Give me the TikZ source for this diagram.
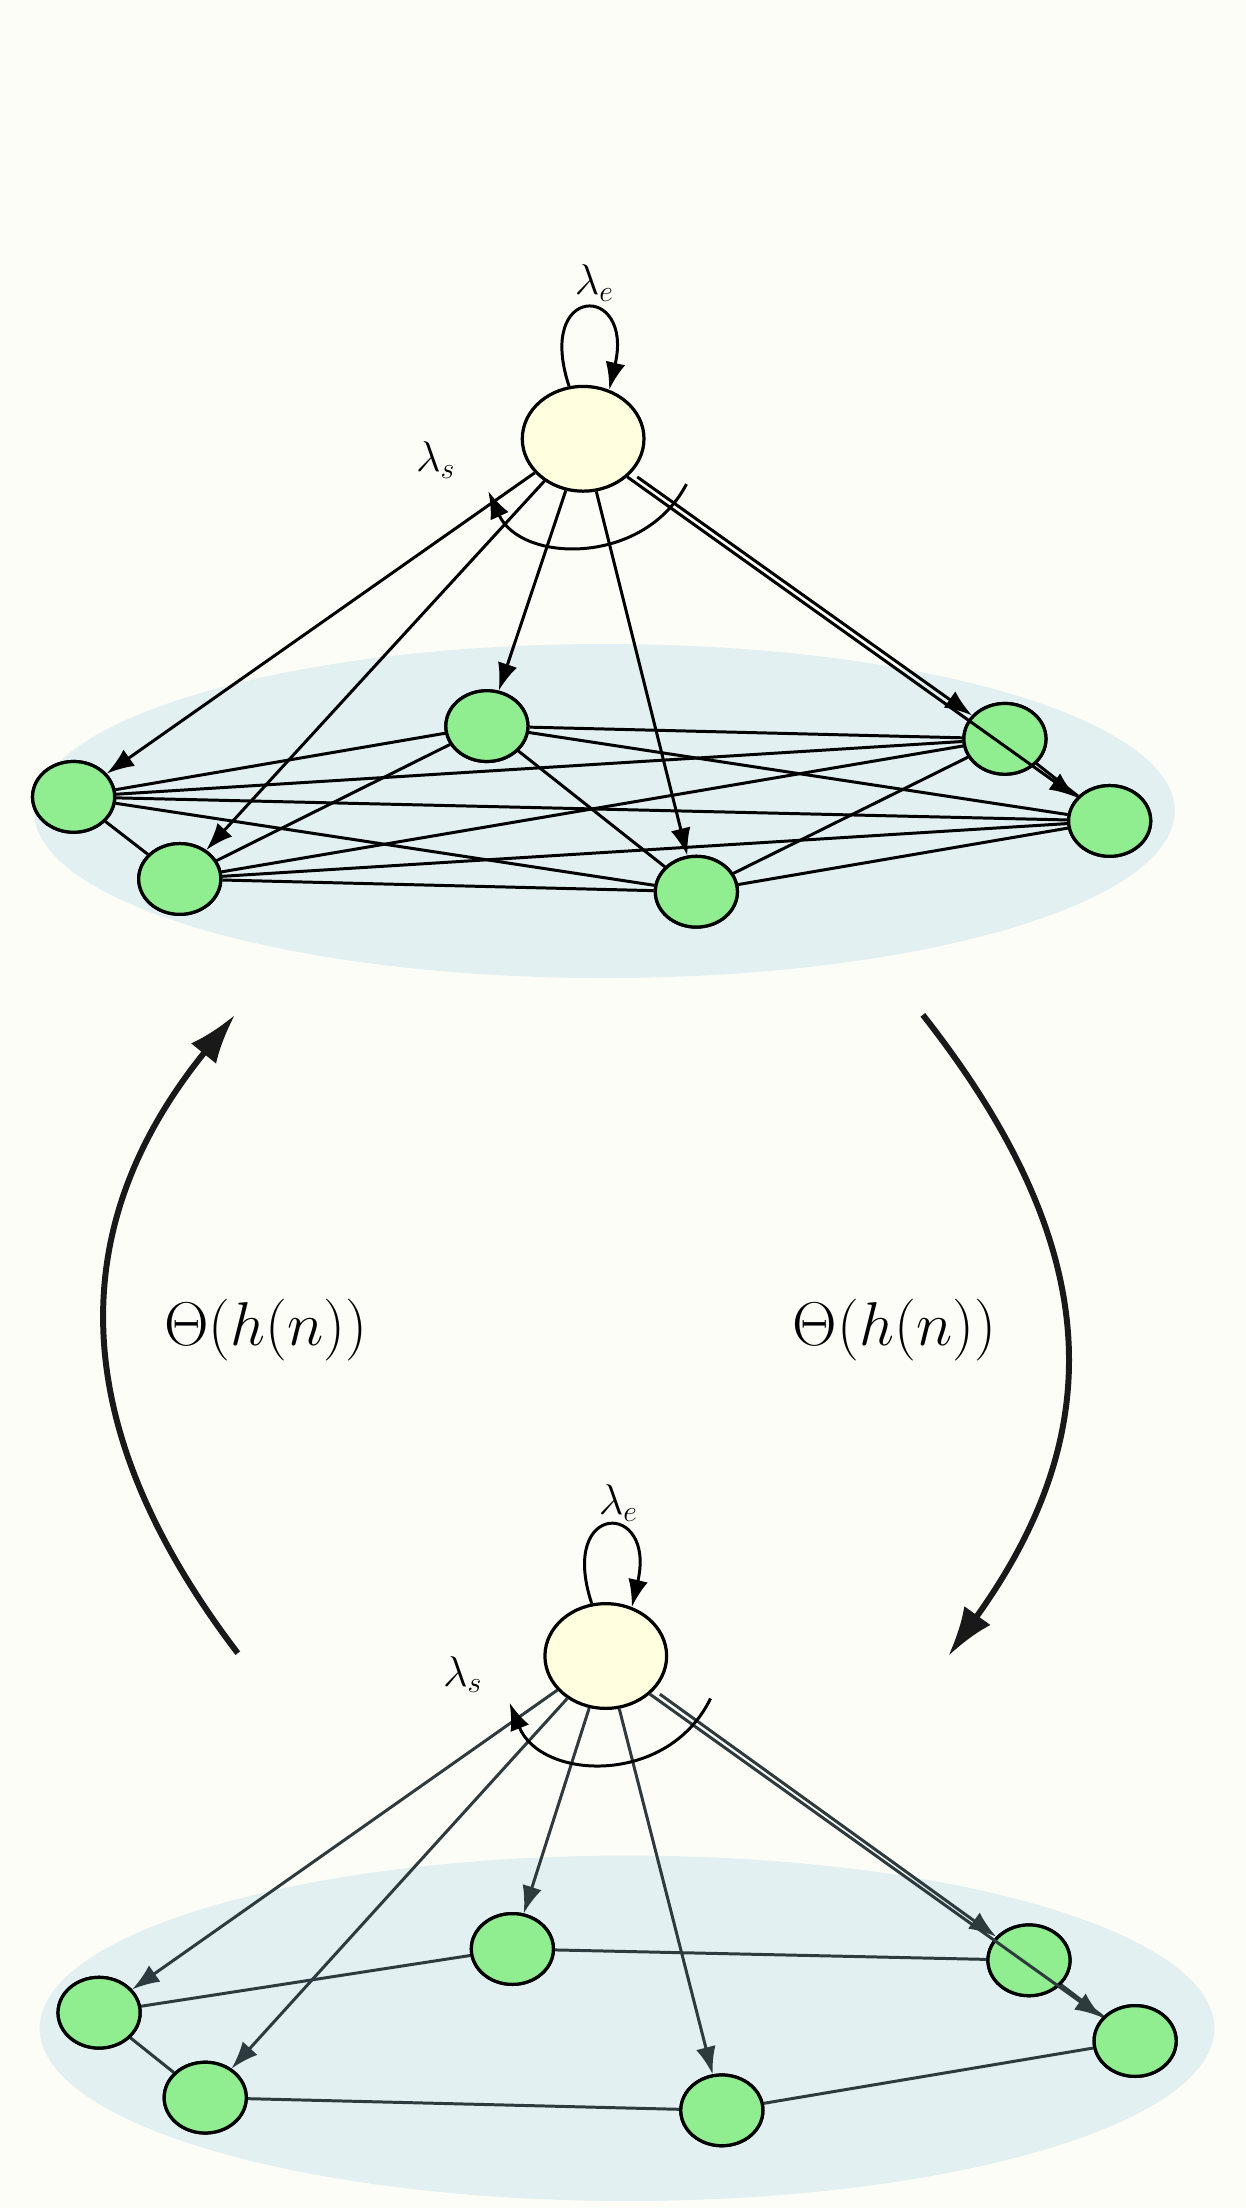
\documentclass[tikz,border=0pt]{standalone}
\usetikzlibrary{arrows.meta,shapes.geometric}
\definecolor{bg}{HTML}{FDFDF7}
\definecolor{plane}{HTML}{E3F0F2}
\definecolor{gnode}{HTML}{90EE90}
\definecolor{ynode}{HTML}{FFFFE0}
\definecolor{dg}{HTML}{2E3B3E}
\begin{document}
\begin{tikzpicture}[x=0.02cm,y=-0.02cm,
  gn/.style={ellipse,draw=black,line width=1.3pt,fill=gnode,minimum width=1.16cm,minimum height=1.0cm,inner sep=0pt},
  yn/.style={ellipse,draw=black,line width=1.3pt,fill=ynode,minimum width=1.72cm,minimum height=1.48cm,inner sep=0pt},
  ed/.style={line width=1.2pt,black},
  arr/.style={line width=1.2pt,-{Latex[length=11pt,width=8pt]}},
  big/.style={line width=2.4pt,-{Latex[length=20pt,width=13pt]},black!90},
  lab/.style={font=\fontsize{18}{20}\selectfont},
  thl/.style={font=\fontsize{27}{30}\selectfont}]
\useasboundingbox[fill=bg] (0,0) rectangle (880,1560);
% ---------- top ----------
\fill[plane] (427,573) ellipse [x radius=403, y radius=118];
\node[yn] (E) at (412,310) {};
\node[gn] (A) at (52,563) {};
\node[gn] (B) at (127,621) {};
\node[gn] (C) at (344,513) {};
\node[gn] (D) at (492,630) {};
\node[gn] (F) at (710,522) {};
\node[gn] (G) at (784,580) {};
\foreach \u/\v in {A/B,A/C,A/D,A/F,A/G,B/C,B/D,B/F,B/G,C/D,C/F,C/G,D/F,D/G,F/G}
  \draw[ed] (\u) -- (\v);
\foreach \n in {A,B,C,D,F,G} \node[gn] at (\n) {};
\draw[arr] (E) -- (A);
\draw[arr] (E) -- (B);
\draw[arr] (E) -- (C);
\draw[arr] (E) -- (D);
\draw[arr] ([xshift=4pt]E.south east) -- (F);
\draw[arr] (E.south east) -- (G);
\draw[arr] (E.105) .. controls (378,200) and (448,200) .. (E.62);
\node[lab] (le) at (420,200) {$\lambda_e$};
\node[lab] (ls) at (308,325) {$\lambda_s$};
\coordinate (s1) at (485,342); \coordinate (s2) at (345,347);
\draw[arr] (s1) .. controls (455,400) and (368,398) .. (s2);
% ---------- bottom ----------
\fill[plane] (443,1433) ellipse [x radius=415, y radius=122];
\node[yn] (E2) at (428,1170) {};
\node[gn] (A2) at (70,1422) {};
\node[gn] (B2) at (145,1482) {};
\node[gn] (C2) at (362,1377) {};
\node[gn] (D2) at (510,1491) {};
\node[gn] (F2) at (727,1385) {};
\node[gn] (G2) at (802,1442) {};
\foreach \u/\v in {A2/B2,A2/C2,B2/D2,C2/F2,D2/G2,F2/G2}
  \draw[ed,dg] (\u) -- (\v);
\foreach \n in {A2,B2,C2,D2,F2,G2} \node[gn] at (\n) {};
\draw[arr,dg] (E2) -- (A2);
\draw[arr,dg] (E2) -- (B2);
\draw[arr,dg] (E2) -- (C2);
\draw[arr,dg] (E2) -- (D2);
\draw[arr,dg] ([xshift=4pt]E2.south east) -- (F2);
\draw[arr,dg] (E2.south east) -- (G2);
\draw[arr] (E2.105) .. controls (394,1060) and (464,1060) .. (E2.62);
\node[lab] (le2) at (437,1062) {$\lambda_e$};
\node[lab] (ls2) at (327,1183) {$\lambda_s$};
\coordinate (t1) at (502,1200); \coordinate (t2) at (360,1203);
\draw[arr] (t1) .. controls (472,1262) and (382,1258) .. (t2);
% ---------- big arrows ----------
\coordinate (L1) at (168,1168); \coordinate (L2) at (166,717);
\coordinate (R1) at (652,717); \coordinate (R2) at (670,1170);
\draw[big] (L1) .. controls (40,1000) and (50,860) .. (L2);
\draw[big] (R1) .. controls (780,880) and (785,1010) .. (R2);
\node[thl] (th1) at (188,940) {$\Theta(h(n))$};
\node[thl] (th2) at (632,940) {$\Theta(h(n))$};
\end{tikzpicture}
\end{document}
